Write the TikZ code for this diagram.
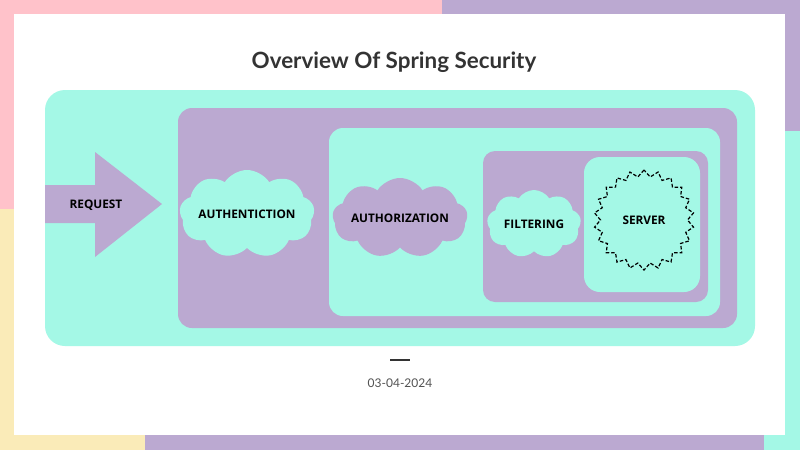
\documentclass[tikz,border=0pt]{standalone}
\usepackage{fontspec}
\setmainfont{Lato}
\newfontfamily\labelfont{Open Sans}
\usetikzlibrary{shapes.symbols,shapes.geometric}

\definecolor{mint}{HTML}{A4F8E6}
\definecolor{lilac}{HTML}{BBA9D1}
\definecolor{blush}{HTML}{FFC2CA}
\definecolor{cream}{HTML}{FAEBB8}
\definecolor{ink}{HTML}{333333}

\tikzset{
  layer/.style={rounded corners=#1},
  puff/.style={cloud, cloud puffs=9, cloud puff arc=115, aspect=1.6, inner sep=0pt},
  tag/.style={font=\labelfont\bfseries\fontsize{11.8}{14}\selectfont, text=black},
}

\begin{document}
\begin{tikzpicture}[x=1pt,y=-1pt]
\useasboundingbox (0,0) rectangle (800,450);
% frame
\fill [blush] (0,0) rectangle (442,209);
\fill [lilac] (442,0) rectangle (800,131);
\fill [cream] (0,209) rectangle (145,450);
\fill [lilac] (145,435) rectangle (764,450);
\fill [mint] (764,131) rectangle (800,450);
\fill [white] (14,14) rectangle (785,435);
\node [font=\bfseries\fontsize{22.4}{26}\selectfont, text=ink] (title) at (394,62) {Overview Of Spring Security};
% nested layers
\fill [mint, layer=20pt] (45,90) rectangle (755,346);
\fill [lilac, layer=14pt] (178,108) rectangle (737,328);
\fill [mint, layer=14pt] (329,128) rectangle (720,316);
\fill [lilac, layer=12pt] (483,151) rectangle (708,302);
\fill [mint, layer=16pt] (584,157) rectangle (700,292);
% request arrow
\fill [lilac] (45,185) -- (95,185) -- (95,152) -- (162,204) -- (95,257) -- (95,223) -- (45,223) -- cycle;
\node [tag] (request) at (96,205) {REQUEST};
% clouds
\node [puff, fill=mint, minimum width=135pt, minimum height=88pt] (authn) at (247,214) {};
\node [tag] at (authn.center) {AUTHENTICTION};
\node [puff, fill=lilac, minimum width=135pt, minimum height=80pt] (authz) at (400,218) {};
\node [tag] at (authz.center) {AUTHORIZATION};
\node [puff, fill=mint, aspect=1.3, minimum width=94pt, minimum height=68pt] (filter) at (534,224) {};
\node [tag] at (filter.center) {FILTERING};
% server
\node [star, star points=22, star point ratio=1.15, draw=black, line width=1.2pt, dash pattern=on 3.5pt off 2pt, minimum size=100pt, inner sep=0pt] (server) at (644,220) {};
\node [tag] at (server.center) {SERVER};
% footer
\draw [ink, line width=2pt] (390,360) -- (410,360);
\node [font=\fontsize{12}{14}\selectfont, text=ink!85] (date) at (400,383) {03-04-2024};
\end{tikzpicture}
\end{document}
